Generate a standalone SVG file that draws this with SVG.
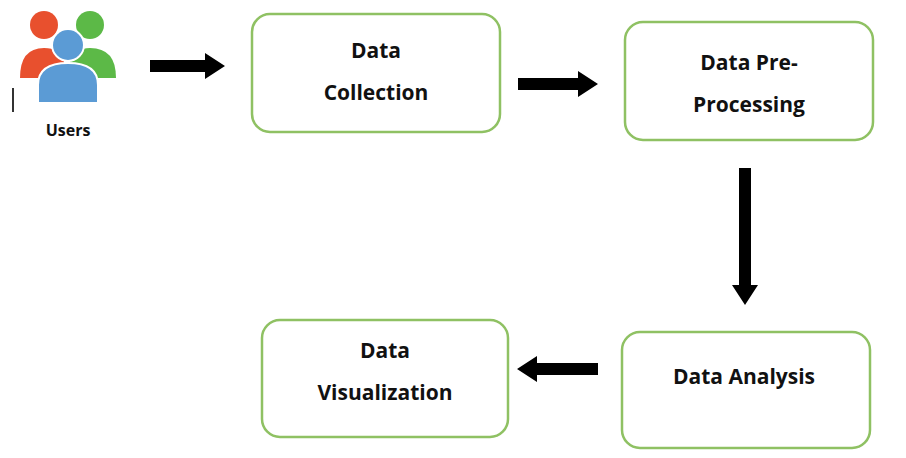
<svg xmlns="http://www.w3.org/2000/svg" width="906" height="458" viewBox="0 0 906 458">
<style>
.box{fill:#fff;stroke:#8fc163;stroke-width:2.5}
.t{font-family:"Open Sans","Liberation Sans",sans-serif;font-weight:bold;font-size:21px;fill:#111;text-anchor:middle}
.ar{fill:#000}
</style>
<rect width="906" height="458" fill="#fff"/>
<g id="users">
<circle cx="44" cy="25" r="14" fill="#e8502e"/>
<path d="M20 78 Q20 48 44 48 Q60 48 64 60 L64 78 Z" fill="#e8502e"/>
<circle cx="90" cy="25" r="14" fill="#5cb947"/>
<path d="M70 60 Q76 48 90 48 Q116 48 116 78 L70 78 Z" fill="#5cb947"/>
<circle cx="68" cy="45" r="17" fill="#fff"/>
<circle cx="68" cy="45" r="15" fill="#5b9bd5"/>
<path d="M38 103 L38 85 Q38 63 68 63 Q98 63 98 85 L98 103 Z" fill="#5b9bd5" stroke="#fff" stroke-width="2"/>
<rect x="12" y="88" width="2" height="24" fill="#333"/>
<text x="68" y="136" class="t" style="font-size:16px">Users</text>
</g>
<g id="collection"><rect class="box" x="252" y="14" width="248" height="118" rx="18"/>
<text class="t" x="376" y="58">Data</text><text class="t" x="376" y="100">Collection</text></g>
<g id="preprocessing"><rect class="box" x="625" y="22" width="248" height="118" rx="18"/>
<text class="t" x="749" y="70">Data Pre-</text><text class="t" x="749" y="112">Processing</text></g>
<g id="analysis"><rect class="box" x="622" y="332" width="248" height="116" rx="18"/>
<text class="t" x="744" y="384">Data Analysis</text></g>
<g id="visualization"><rect class="box" x="262" y="320" width="246" height="117" rx="18"/>
<text class="t" x="385" y="358">Data</text><text class="t" x="385" y="400">Visualization</text></g>
<g id="connectors">
<polygon class="ar" points="150,60 205,60 205,53 225,66 205,79 205,72 150,72"/>
<polygon class="ar" points="518,78 578,78 578,71 598,84 578,97 578,90 518,90"/>
<polygon class="ar" points="739,168 751,168 751,285 758,285 745,305 732,285 739,285"/>
<polygon class="ar" points="598,363 537,363 537,356 517,369 537,382 537,375 598,375"/>
</g>
</svg>
